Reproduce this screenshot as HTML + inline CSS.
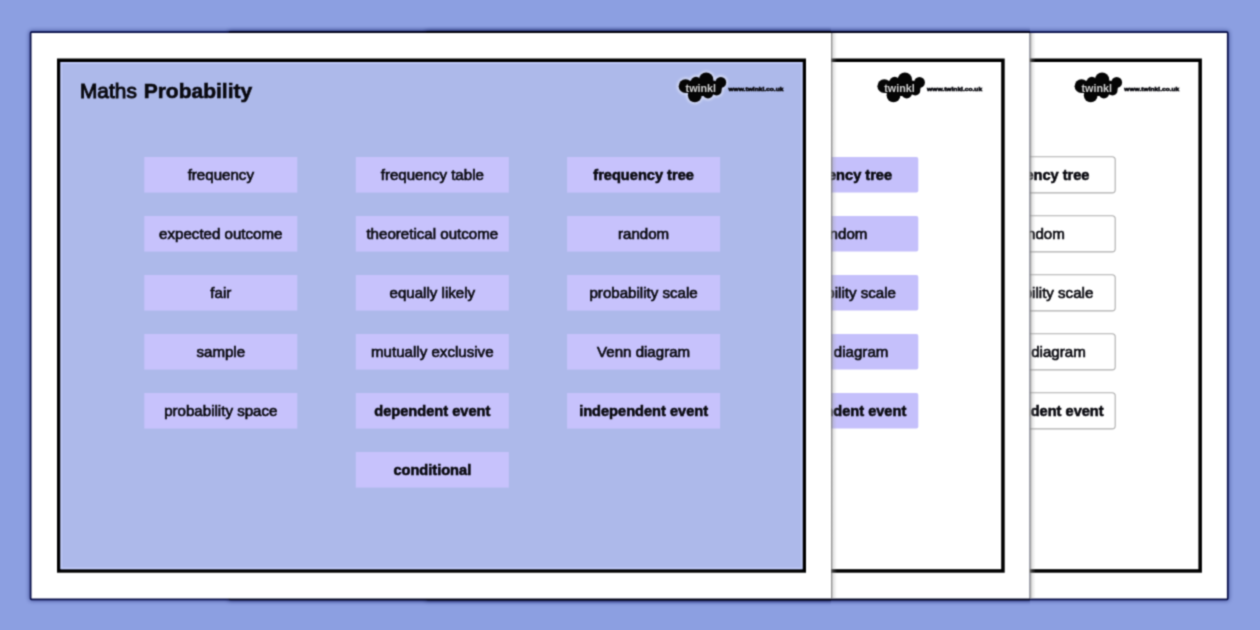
<!DOCTYPE html>
<html lang="en">
<head>
<meta charset="utf-8">
<title>Maths Probability</title>
<style>
html,body{margin:0;padding:0;}
body{width:1260px;height:630px;overflow:hidden;background:#8c9fe1;}
svg{display:block;position:absolute;left:0;top:0;}
text{font-family:"Liberation Sans",sans-serif;fill:#09090f;stroke:#09090f;stroke-width:.35px;}
.title{font-size:20.8px;}
.title.m{letter-spacing:.1px;stroke-width:.95px;}
.title.b{font-size:21px;stroke-width:.6px;}
.b{font-weight:700;}
.w{font-size:15.1px;stroke-width:.62px;}
.w.b{font-size:14.6px;stroke-width:.55px;}
.tw{font-size:11.8px;font-weight:700;fill:#d2d2d2;stroke:none;}
.url{font-size:5.2px;font-weight:700;stroke-width:.55px;}
</style>
</head>
<body>
<svg width="1260" height="630" viewBox="0 0 1260 630">
<defs>
<filter id="soft" x="-5%" y="-5%" width="110%" height="110%"><feGaussianBlur stdDeviation="2.2"/></filter>
<filter id="soften" x="0" y="0" width="100%" height="100%" color-interpolation-filters="sRGB"><feConvolveMatrix order="3" kernelMatrix="0.04 0.12 0.04 0.12 0.36 0.12 0.04 0.12 0.04" edgeMode="duplicate" preserveAlpha="true"/></filter>
<filter id="halo" x="-20%" y="-20%" width="140%" height="140%"><feGaussianBlur stdDeviation="1.0"/></filter>
<linearGradient id="edge" x1="0" y1="0" x2="1" y2="0">
<stop offset="0" stop-color="#6e6e6e" stop-opacity=".95"/>
<stop offset=".22" stop-color="#8a8a8a" stop-opacity=".55"/>
<stop offset=".4" stop-color="#9a9a9a" stop-opacity=".28"/>
<stop offset="1" stop-color="#b0b0b0" stop-opacity="0"/>
</linearGradient>
<clipPath id="clipL0"><rect x="0" y="0" width="831.0" height="630"/></clipPath>
<clipPath id="clipL1"><rect x="0" y="0" width="1029.7" height="630"/></clipPath>
</defs>
<g filter="url(#soften)">
<rect width="1260" height="630" fill="#8c9fe1"/>
<g class="sheet s3">
<g style="mix-blend-mode:multiply">
<rect x="425.2" y="30.8" width="803.9" height="569.9" rx="2" fill="#1a2c74" opacity=".62" filter="url(#soft)"/>
<rect x="425.7" y="31.3" width="802.9" height="568.9" rx="1.6" fill="#0b1552"/>
</g>
<rect x="427.4" y="33.0" width="799.5" height="565.5" fill="#ffffff"/>
<rect x="454.65" y="60.25" width="745.5" height="510.7" fill="#ffffff" stroke="#000" stroke-width="3.5"/>
<text x="475.8" y="97.7" class="title m">Maths</text>
<text x="539.6" y="97.7" class="title b">Probability</text>
<g class="logo"><g fill="#fff" opacity=".42" filter="url(#halo)"><ellipse cx="1098.4" cy="87.4" rx="21.5" ry="10.6"/><circle cx="1081.5" cy="86.2" r="8.9"/><circle cx="1091.9" cy="82.2" r="7.4"/><circle cx="1102.1" cy="79.6" r="9.1"/><circle cx="1116.7" cy="82.4" r="7.4"/><circle cx="1090.7" cy="95.3" r="8.9"/><circle cx="1103.9" cy="93.5" r="7.1"/><circle cx="1112.5" cy="90.4" r="7.0"/></g><ellipse cx="1098.4" cy="87.4" rx="19.5" ry="8.6" fill="#050505"/><circle cx="1081.5" cy="86.2" r="6.9" fill="#050505"/><circle cx="1091.9" cy="82.2" r="5.4" fill="#050505"/><circle cx="1102.1" cy="79.6" r="7.1" fill="#050505"/><circle cx="1116.7" cy="82.4" r="5.4" fill="#050505"/><circle cx="1090.7" cy="95.3" r="6.9" fill="#050505"/><circle cx="1103.9" cy="93.5" r="5.1" fill="#050505"/><circle cx="1112.5" cy="90.4" r="5.0" fill="#050505"/><text x="1096.7" y="91.9" text-anchor="middle" class="tw" textLength="30.5" lengthAdjust="spacingAndGlyphs">twinkl</text><text x="1124.3" y="91.4" class="url" textLength="55" lengthAdjust="spacingAndGlyphs">www.twinkl.co.uk</text></g>
<rect x="540.4" y="156.7" width="152.0" height="36.2" rx="3.2" fill="#fff" stroke="#adadad" stroke-width="1.1"/>
<text x="616.4" y="180.2" text-anchor="middle" class="w">frequency</text>
<rect x="540.4" y="215.7" width="152.0" height="36.2" rx="3.2" fill="#fff" stroke="#adadad" stroke-width="1.1"/>
<text x="616.4" y="239.2" text-anchor="middle" class="w">expected outcome</text>
<rect x="540.4" y="274.7" width="152.0" height="36.2" rx="3.2" fill="#fff" stroke="#adadad" stroke-width="1.1"/>
<text x="616.4" y="298.2" text-anchor="middle" class="w">fair</text>
<rect x="540.4" y="333.7" width="152.0" height="36.2" rx="3.2" fill="#fff" stroke="#adadad" stroke-width="1.1"/>
<text x="616.4" y="357.2" text-anchor="middle" class="w">sample</text>
<rect x="540.4" y="392.7" width="152.0" height="36.2" rx="3.2" fill="#fff" stroke="#adadad" stroke-width="1.1"/>
<text x="616.4" y="416.2" text-anchor="middle" class="w">probability space</text>
<rect x="751.9" y="156.7" width="152.0" height="36.2" rx="3.2" fill="#fff" stroke="#adadad" stroke-width="1.1"/>
<text x="827.9" y="180.2" text-anchor="middle" class="w">frequency table</text>
<rect x="751.9" y="215.7" width="152.0" height="36.2" rx="3.2" fill="#fff" stroke="#adadad" stroke-width="1.1"/>
<text x="827.9" y="239.2" text-anchor="middle" class="w">theoretical outcome</text>
<rect x="751.9" y="274.7" width="152.0" height="36.2" rx="3.2" fill="#fff" stroke="#adadad" stroke-width="1.1"/>
<text x="827.9" y="298.2" text-anchor="middle" class="w">equally likely</text>
<rect x="751.9" y="333.7" width="152.0" height="36.2" rx="3.2" fill="#fff" stroke="#adadad" stroke-width="1.1"/>
<text x="827.9" y="357.2" text-anchor="middle" class="w">mutually exclusive</text>
<rect x="751.9" y="392.7" width="152.0" height="36.2" rx="3.2" fill="#fff" stroke="#adadad" stroke-width="1.1"/>
<text x="827.9" y="416.2" text-anchor="middle" class="w b">dependent event</text>
<rect x="751.9" y="451.7" width="152.0" height="36.2" rx="3.2" fill="#fff" stroke="#adadad" stroke-width="1.1"/>
<text x="827.9" y="475.2" text-anchor="middle" class="w b">conditional</text>
<rect x="963.2" y="156.7" width="152.0" height="36.2" rx="3.2" fill="#fff" stroke="#adadad" stroke-width="1.1"/>
<text x="1039.2" y="180.2" text-anchor="middle" class="w b">frequency tree</text>
<rect x="963.2" y="215.7" width="152.0" height="36.2" rx="3.2" fill="#fff" stroke="#adadad" stroke-width="1.1"/>
<text x="1039.2" y="239.2" text-anchor="middle" class="w">random</text>
<rect x="963.2" y="274.7" width="152.0" height="36.2" rx="3.2" fill="#fff" stroke="#adadad" stroke-width="1.1"/>
<text x="1039.2" y="298.2" text-anchor="middle" class="w">probability scale</text>
<rect x="963.2" y="333.7" width="152.0" height="36.2" rx="3.2" fill="#fff" stroke="#adadad" stroke-width="1.1"/>
<text x="1039.2" y="357.2" text-anchor="middle" class="w">Venn diagram</text>
<rect x="963.2" y="392.7" width="152.0" height="36.2" rx="3.2" fill="#fff" stroke="#adadad" stroke-width="1.1"/>
<text x="1039.2" y="416.2" text-anchor="middle" class="w b">independent event</text>
</g>
<g class="sheet s2">
<g clip-path="url(#clipL1)" style="mix-blend-mode:multiply">
<rect x="228.0" y="30.8" width="803.9" height="569.9" rx="2" fill="#1a2c74" opacity=".62" filter="url(#soft)"/>
<rect x="228.5" y="31.3" width="802.9" height="568.9" rx="1.6" fill="#0b1552"/>
</g>
<rect x="230.2" y="33.0" width="799.5" height="565.5" fill="#ffffff"/>
<rect x="1029.7" y="33.0" width="6" height="565.5" fill="url(#edge)"/>
<rect x="257.45" y="60.25" width="745.5" height="510.7" fill="#ffffff" stroke="#000" stroke-width="3.5"/>
<text x="278.6" y="97.7" class="title m">Maths</text>
<text x="342.4" y="97.7" class="title b">Probability</text>
<g class="logo"><g fill="#fff" opacity=".42" filter="url(#halo)"><ellipse cx="901.2" cy="87.4" rx="21.5" ry="10.6"/><circle cx="884.3" cy="86.2" r="8.9"/><circle cx="894.7" cy="82.2" r="7.4"/><circle cx="904.9" cy="79.6" r="9.1"/><circle cx="919.5" cy="82.4" r="7.4"/><circle cx="893.5" cy="95.3" r="8.9"/><circle cx="906.7" cy="93.5" r="7.1"/><circle cx="915.3" cy="90.4" r="7.0"/></g><ellipse cx="901.2" cy="87.4" rx="19.5" ry="8.6" fill="#050505"/><circle cx="884.3" cy="86.2" r="6.9" fill="#050505"/><circle cx="894.7" cy="82.2" r="5.4" fill="#050505"/><circle cx="904.9" cy="79.6" r="7.1" fill="#050505"/><circle cx="919.5" cy="82.4" r="5.4" fill="#050505"/><circle cx="893.5" cy="95.3" r="6.9" fill="#050505"/><circle cx="906.7" cy="93.5" r="5.1" fill="#050505"/><circle cx="915.3" cy="90.4" r="5.0" fill="#050505"/><text x="899.5" y="91.9" text-anchor="middle" class="tw" textLength="30.5" lengthAdjust="spacingAndGlyphs">twinkl</text><text x="927.1" y="91.4" class="url" textLength="55" lengthAdjust="spacingAndGlyphs">www.twinkl.co.uk</text></g>
<rect x="342.5" y="157.0" width="153.0" height="35.6" rx="2" fill="#c5c0fb"/>
<text x="419.0" y="180.2" text-anchor="middle" class="w">frequency</text>
<rect x="342.5" y="216.0" width="153.0" height="35.6" rx="2" fill="#c5c0fb"/>
<text x="419.0" y="239.2" text-anchor="middle" class="w">expected outcome</text>
<rect x="342.5" y="275.0" width="153.0" height="35.6" rx="2" fill="#c5c0fb"/>
<text x="419.0" y="298.2" text-anchor="middle" class="w">fair</text>
<rect x="342.5" y="334.0" width="153.0" height="35.6" rx="2" fill="#c5c0fb"/>
<text x="419.0" y="357.2" text-anchor="middle" class="w">sample</text>
<rect x="342.5" y="393.0" width="153.0" height="35.6" rx="2" fill="#c5c0fb"/>
<text x="419.0" y="416.2" text-anchor="middle" class="w">probability space</text>
<rect x="554.0" y="157.0" width="153.0" height="35.6" rx="2" fill="#c5c0fb"/>
<text x="630.5" y="180.2" text-anchor="middle" class="w">frequency table</text>
<rect x="554.0" y="216.0" width="153.0" height="35.6" rx="2" fill="#c5c0fb"/>
<text x="630.5" y="239.2" text-anchor="middle" class="w">theoretical outcome</text>
<rect x="554.0" y="275.0" width="153.0" height="35.6" rx="2" fill="#c5c0fb"/>
<text x="630.5" y="298.2" text-anchor="middle" class="w">equally likely</text>
<rect x="554.0" y="334.0" width="153.0" height="35.6" rx="2" fill="#c5c0fb"/>
<text x="630.5" y="357.2" text-anchor="middle" class="w">mutually exclusive</text>
<rect x="554.0" y="393.0" width="153.0" height="35.6" rx="2" fill="#c5c0fb"/>
<text x="630.5" y="416.2" text-anchor="middle" class="w b">dependent event</text>
<rect x="554.0" y="452.0" width="153.0" height="35.6" rx="2" fill="#c5c0fb"/>
<text x="630.5" y="475.2" text-anchor="middle" class="w b">conditional</text>
<rect x="765.3" y="157.0" width="153.0" height="35.6" rx="2" fill="#c5c0fb"/>
<text x="841.8" y="180.2" text-anchor="middle" class="w b">frequency tree</text>
<rect x="765.3" y="216.0" width="153.0" height="35.6" rx="2" fill="#c5c0fb"/>
<text x="841.8" y="239.2" text-anchor="middle" class="w">random</text>
<rect x="765.3" y="275.0" width="153.0" height="35.6" rx="2" fill="#c5c0fb"/>
<text x="841.8" y="298.2" text-anchor="middle" class="w">probability scale</text>
<rect x="765.3" y="334.0" width="153.0" height="35.6" rx="2" fill="#c5c0fb"/>
<text x="841.8" y="357.2" text-anchor="middle" class="w">Venn diagram</text>
<rect x="765.3" y="393.0" width="153.0" height="35.6" rx="2" fill="#c5c0fb"/>
<text x="841.8" y="416.2" text-anchor="middle" class="w b">independent event</text>
</g>
<g class="sheet s1">
<g clip-path="url(#clipL0)" style="mix-blend-mode:multiply">
<rect x="29.3" y="30.8" width="803.9" height="569.9" rx="2" fill="#1a2c74" opacity=".62" filter="url(#soft)"/>
<rect x="29.8" y="31.3" width="802.9" height="568.9" rx="1.6" fill="#0b1552"/>
</g>
<rect x="31.5" y="33.0" width="799.5" height="565.5" fill="#ffffff"/>
<rect x="831.0" y="33.0" width="6" height="565.5" fill="url(#edge)"/>
<rect x="58.75" y="60.25" width="745.5" height="510.7" fill="#adb9ea" stroke="#000" stroke-width="3.5"/>
<rect x="61.30" y="62.8" width="740.4" height="505.6" fill="none" stroke="#c3cefb" stroke-width="1.6" opacity=".95"/>
<text x="79.9" y="97.7" class="title m">Maths</text>
<text x="143.7" y="97.7" class="title b">Probability</text>
<g class="logo"><g fill="#fff" opacity=".42" filter="url(#halo)"><ellipse cx="702.5" cy="87.4" rx="21.5" ry="10.6"/><circle cx="685.6" cy="86.2" r="8.9"/><circle cx="696.0" cy="82.2" r="7.4"/><circle cx="706.2" cy="79.6" r="9.1"/><circle cx="720.8" cy="82.4" r="7.4"/><circle cx="694.8" cy="95.3" r="8.9"/><circle cx="708.0" cy="93.5" r="7.1"/><circle cx="716.6" cy="90.4" r="7.0"/></g><ellipse cx="702.5" cy="87.4" rx="19.5" ry="8.6" fill="#050505"/><circle cx="685.6" cy="86.2" r="6.9" fill="#050505"/><circle cx="696.0" cy="82.2" r="5.4" fill="#050505"/><circle cx="706.2" cy="79.6" r="7.1" fill="#050505"/><circle cx="720.8" cy="82.4" r="5.4" fill="#050505"/><circle cx="694.8" cy="95.3" r="6.9" fill="#050505"/><circle cx="708.0" cy="93.5" r="5.1" fill="#050505"/><circle cx="716.6" cy="90.4" r="5.0" fill="#050505"/><text x="700.8" y="91.9" text-anchor="middle" class="tw" textLength="30.5" lengthAdjust="spacingAndGlyphs">twinkl</text><text x="728.4" y="91.4" class="url" textLength="55" lengthAdjust="spacingAndGlyphs">www.twinkl.co.uk</text></g>
<rect x="144.3" y="157.0" width="153.0" height="35.6" fill="#c7c2fc"/>
<text x="220.8" y="180.2" text-anchor="middle" class="w">frequency</text>
<rect x="144.3" y="216.0" width="153.0" height="35.6" fill="#c7c2fc"/>
<text x="220.8" y="239.2" text-anchor="middle" class="w">expected outcome</text>
<rect x="144.3" y="275.0" width="153.0" height="35.6" fill="#c7c2fc"/>
<text x="220.8" y="298.2" text-anchor="middle" class="w">fair</text>
<rect x="144.3" y="334.0" width="153.0" height="35.6" fill="#c7c2fc"/>
<text x="220.8" y="357.2" text-anchor="middle" class="w">sample</text>
<rect x="144.3" y="393.0" width="153.0" height="35.6" fill="#c7c2fc"/>
<text x="220.8" y="416.2" text-anchor="middle" class="w">probability space</text>
<rect x="355.8" y="157.0" width="153.0" height="35.6" fill="#c7c2fc"/>
<text x="432.3" y="180.2" text-anchor="middle" class="w">frequency table</text>
<rect x="355.8" y="216.0" width="153.0" height="35.6" fill="#c7c2fc"/>
<text x="432.3" y="239.2" text-anchor="middle" class="w">theoretical outcome</text>
<rect x="355.8" y="275.0" width="153.0" height="35.6" fill="#c7c2fc"/>
<text x="432.3" y="298.2" text-anchor="middle" class="w">equally likely</text>
<rect x="355.8" y="334.0" width="153.0" height="35.6" fill="#c7c2fc"/>
<text x="432.3" y="357.2" text-anchor="middle" class="w">mutually exclusive</text>
<rect x="355.8" y="393.0" width="153.0" height="35.6" fill="#c7c2fc"/>
<text x="432.3" y="416.2" text-anchor="middle" class="w b">dependent event</text>
<rect x="355.8" y="452.0" width="153.0" height="35.6" fill="#c7c2fc"/>
<text x="432.3" y="475.2" text-anchor="middle" class="w b">conditional</text>
<rect x="567.1" y="157.0" width="153.0" height="35.6" fill="#c7c2fc"/>
<text x="643.6" y="180.2" text-anchor="middle" class="w b">frequency tree</text>
<rect x="567.1" y="216.0" width="153.0" height="35.6" fill="#c7c2fc"/>
<text x="643.6" y="239.2" text-anchor="middle" class="w">random</text>
<rect x="567.1" y="275.0" width="153.0" height="35.6" fill="#c7c2fc"/>
<text x="643.6" y="298.2" text-anchor="middle" class="w">probability scale</text>
<rect x="567.1" y="334.0" width="153.0" height="35.6" fill="#c7c2fc"/>
<text x="643.6" y="357.2" text-anchor="middle" class="w">Venn diagram</text>
<rect x="567.1" y="393.0" width="153.0" height="35.6" fill="#c7c2fc"/>
<text x="643.6" y="416.2" text-anchor="middle" class="w b">independent event</text>
</g>
</g>
</svg>
</body>
</html>
